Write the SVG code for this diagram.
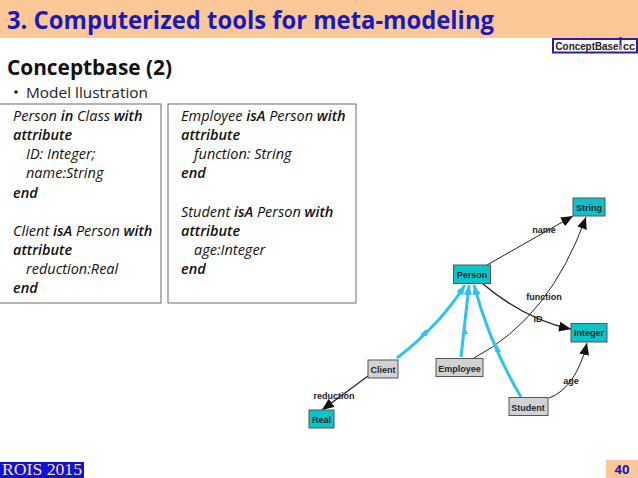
<svg xmlns="http://www.w3.org/2000/svg" width="638" height="478" viewBox="0 0 638 478">
<style>
.s{font-family:"Open Sans","Noto Sans",sans-serif}
.code{font-family:"Open Sans","Noto Sans",sans-serif;font-size:14.5px;font-style:italic;fill:#111}
.code .b{font-weight:600}
.bb{font-weight:600}
.box{fill:#fff;stroke:#6a6a6a;stroke-width:1}
.n{stroke:#555;stroke-width:1}
.cy{fill:#0cc4c8}
.gr{fill:#d2d2d2}
.nl{font-family:"Liberation Sans",Arial,sans-serif;font-size:9px;font-weight:700;text-anchor:middle;fill:#1a2a2a}
.el{font-family:"Liberation Sans",Arial,sans-serif;font-size:9px;font-weight:700;text-anchor:middle;fill:#222}
.k{fill:none;stroke:#222;stroke-width:1}
.c{fill:none;stroke:#2cc4ea;stroke-width:3}
</style>
<defs>
<marker id="ak" markerUnits="userSpaceOnUse" markerWidth="14" markerHeight="12" refX="12" refY="5" orient="auto"><path d="M0 0L12 5L0 10Z" fill="#111"/></marker>
<marker id="ac" markerUnits="userSpaceOnUse" markerWidth="14" markerHeight="12" refX="10" refY="4" orient="auto"><path d="M0 0L10 4L0 8Z" fill="#2cc4ea"/></marker>
</defs>
<rect width="638" height="38" fill="#fcc797"/>
<text class="s" x="7" y="29" font-size="25" font-weight="700" fill="#1a1ab8" textLength="487" lengthAdjust="spacingAndGlyphs">3. Computerized tools for meta-modeling</text>
<text class="s" x="7" y="75" font-size="21.5" font-weight="700" fill="#111" textLength="165" lengthAdjust="spacingAndGlyphs">Conceptbase (2)</text>
<circle cx="16" cy="92" r="1.8" fill="#222"/>
<text class="s" x="26" y="98" font-size="15" fill="#222" textLength="122" lengthAdjust="spacingAndGlyphs">Model llustration</text>

<g id="concept-logo">
<rect x="553" y="39" width="84" height="13.5" fill="#fff" stroke="#2a1ea8" stroke-width="2"/>
<text x="555.5" y="49.5" font-family="'Liberation Sans',Arial,sans-serif" font-size="10.5" font-weight="700" fill="#222" textLength="63" lengthAdjust="spacingAndGlyphs">ConceptBase</text>
<rect x="619.5" y="37" width="2" height="8" fill="#2a1ea8"/>
<rect x="619" y="45" width="3" height="5" fill="#e8743a"/>
<text x="623" y="49.5" font-family="'Liberation Sans',Arial,sans-serif" font-size="10.5" font-weight="700" fill="#222" textLength="12" lengthAdjust="spacingAndGlyphs">cc</text>
</g>

<g id="text-box-1">
<rect class="box" x="-1" y="104" width="162" height="199"/>
<text class="code" x="13" y="121">Person <tspan class="b">in</tspan> Class <tspan class="b">with</tspan></text>
<text class="code bb" x="13" y="140">attribute</text>
<text class="code" x="26" y="159">ID: Integer;</text>
<text class="code" x="26" y="178">name:String</text>
<text class="code bb" x="13" y="198">end</text>
<text class="code" x="13" y="236">Client <tspan class="b">isA</tspan> Person <tspan class="b">with</tspan></text>
<text class="code bb" x="13" y="255">attribute</text>
<text class="code" x="26" y="274">reduction:Real</text>
<text class="code bb" x="13" y="293">end</text>
</g>
<g id="text-box-2">
<rect class="box" x="168" y="104" width="188" height="199"/>
<text class="code" x="181" y="121">Employee <tspan class="b">isA</tspan> Person <tspan class="b">with</tspan></text>
<text class="code bb" x="181" y="140">attribute</text>
<text class="code" x="194" y="159">function: String</text>
<text class="code bb" x="181" y="178">end</text>
<text class="code" x="181" y="217">Student <tspan class="b">isA</tspan> Person <tspan class="b">with</tspan></text>
<text class="code bb" x="181" y="236">attribute</text>
<text class="code" x="194" y="255">age:Integer</text>
<text class="code bb" x="181" y="274">end</text>
</g>

<g id="connectors">
<path class="k" d="M487 265L573 216" marker-end="url(#ak)"/>
<path class="k" style="stroke-width:1.4" d="M483 284Q526 320 571 329" marker-end="url(#ak)"/>
<path class="k" d="M474 358Q550 318 586 217" marker-end="url(#ak)"/>
<path class="k" d="M549 398Q576 388 587 343" marker-end="url(#ak)"/>
<path class="k" style="stroke-width:1.2" d="M368 376L322 410" marker-end="url(#ak)"/>
<path class="c" d="M397 358Q440 325 465 285" marker-end="url(#ac)"/>
<path class="c" d="M461 357L469 285" marker-end="url(#ac)"/>
<path class="c" d="M521 397Q490 345 474 285" marker-end="url(#ac)"/>
<path d="M420 335L426 329L427 336Z M462 334L468 334L465 328Z M495 352L501 352L497 345Z" fill="#2cc4ea"/>
<text class="el" x="544" y="233">name</text>
<text class="el" x="544" y="300">function</text>
<text class="el" x="538" y="322">ID</text>
<text class="el" x="571" y="384">age</text>
<text class="el" x="334" y="399">reduction</text>
</g>

<g id="person"><rect class="n cy" x="453.5" y="265" width="37" height="18.5"/><text class="nl" x="472" y="278">Person</text></g>
<g id="string"><rect class="n cy" x="573" y="198" width="32" height="18"/><text class="nl" x="589" y="211">String</text></g>
<g id="integer"><rect class="n cy" x="571" y="323.5" width="36" height="18.5"/><text class="nl" x="589" y="336">Integer</text></g>
<g id="client"><rect class="n gr" x="368" y="360" width="30" height="18"/><text class="nl" x="383" y="373">Client</text></g>
<g id="employee"><rect class="n gr" x="436" y="358.5" width="47" height="18"/><text class="nl" x="459.5" y="371.5">Employee</text></g>
<g id="student"><rect class="n gr" x="509" y="397.5" width="39" height="18"/><text class="nl" x="528" y="410.5">Student</text></g>
<g id="real"><rect class="n cy" x="309" y="410" width="25" height="18"/><text class="nl" x="321.5" y="423">Real</text></g>

<g id="rois-logo">
<rect x="0" y="462" width="84" height="16" fill="#1410d8"/>
<text x="2" y="474.5" font-family="'Liberation Serif',serif" font-size="16" fill="#f4e6a0" textLength="80" lengthAdjust="spacingAndGlyphs">ROIS 2015</text>
</g>
<g id="page-number">
<rect x="606" y="460" width="32" height="18" fill="#fcc797"/>
<text class="s" x="622" y="474" font-size="13" font-weight="700" fill="#1a1ab8" text-anchor="middle">40</text>
</g>
</svg>
